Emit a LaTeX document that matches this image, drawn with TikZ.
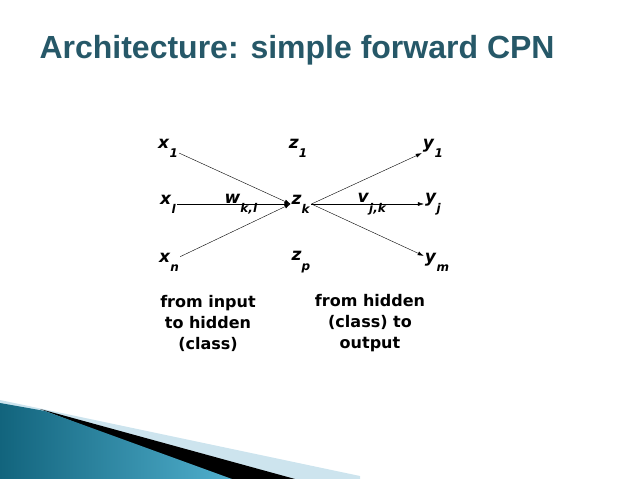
\documentclass[tikz,border=0pt]{standalone}
\usepackage{fontspec}
\setmainfont{DejaVu Sans}
\newfontfamily\titlefont{Liberation Sans}
\usetikzlibrary{arrows.meta}
\definecolor{titleteal}{RGB}{38,88,104}
\definecolor{darkteal}{RGB}{18,100,125}
\definecolor{lightteal}{RGB}{80,175,205}
\definecolor{paleblue}{RGB}{205,228,238}
\newcommand{\unit}[2]{\textbf{\textit{#1}}\raisebox{-1.0ex}{\fontsize{12}{14}\selectfont\textbf{\textit{#2}}}}
\begin{document}
\begin{tikzpicture}[x=1pt,y=-1pt,>=Latex,
    unitnode/.style={inner sep=1pt, font=\fontsize{17}{19}\selectfont},
    weight/.style={inner sep=0pt, font=\fontsize{17}{19}\selectfont},
    caption/.style={align=center, font=\fontsize{16}{21}\selectfont\bfseries},
    link/.style={->, >={Latex[length=6pt,width=4pt]}, thin}]
        \useasboundingbox (0,0) rectangle (638,479);

        % title
        \node[anchor=west, text=titleteal, font=\titlefont\fontsize{32}{36}\selectfont\bfseries]
            (title) at (36,50) {Architecture: simple forward CPN};

        % units
        \node[unitnode] (x1) at (168,148) {\unit{x}{1}};
        \node[unitnode] (xl) at (168,204) {\unit{x}{l}};
        \node[unitnode] (xn) at (169,262) {\unit{x}{n}};
        \node[unitnode] (z1) at (298,148) {\unit{z}{1}};
        \node[unitnode] (zk) at (301,204) {\unit{z}{k}};
        \node[unitnode] (zp) at (301,262) {\unit{z}{p}};
        \node[unitnode] (y1) at (433,148) {\unit{y}{1}};
        \node[unitnode] (yj) at (433,204) {\unit{y}{j}};
        \node[unitnode] (ym) at (437,262) {\unit{y}{m}};

        % weights
        \node[weight] (wkl) at (241,204) {\unit{w}{k,l}};
        \node[weight] (vjk) at (372,204) {\unit{v}{j,k}};

        % connections
        \draw[link] (x1) -- (zk.west);
        \draw[link] (xl) -- (zk.west);
        \draw[link] (xn) -- (zk.west);
        \draw[link] (zk.east) -- (y1);
        \draw[link] (zk.east) -- (yj);
        \draw[link] (zk.east) -- (ym);

        % captions
        \node[caption] (capin) at (208,323) {from input\\to hidden\\(class)};
        \node[caption] (capout) at (370,323) {from hidden\\(class) to\\output};

        % corner decoration
        \fill[paleblue] (0,400) -- (360,476) -- (360,479) -- (0,479) -- cycle;
        \fill[black] (40,409) -- (295,479) -- (225,479) -- cycle;
        \shade[left color=darkteal, right color=lightteal] (0,403) -- (45,411) -- (232,479) -- (0,479) -- cycle;
    \end{tikzpicture}
\end{document}
